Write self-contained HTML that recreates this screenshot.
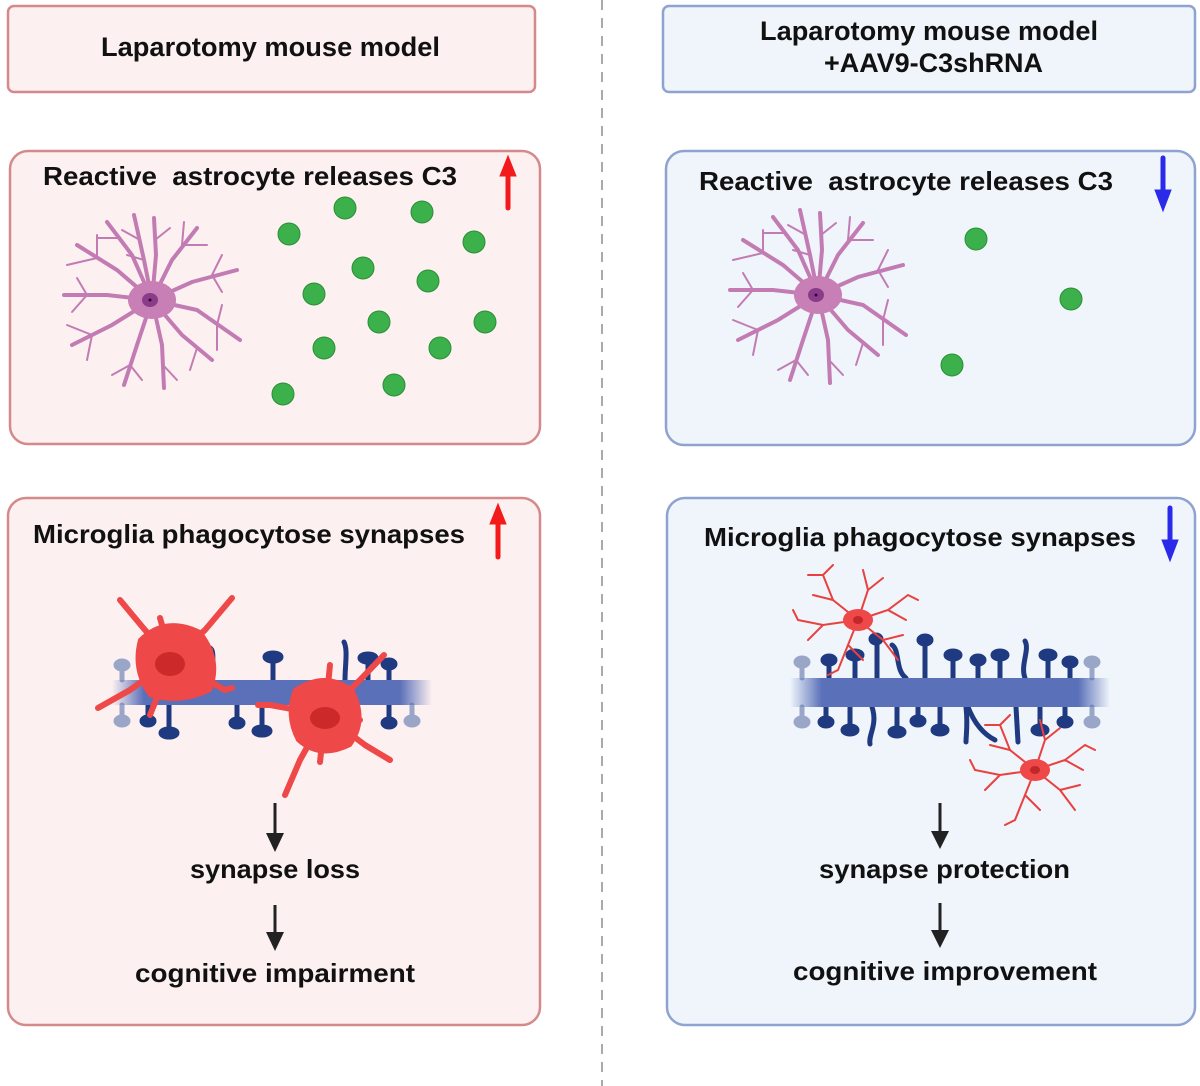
<!DOCTYPE html>
<html><head><meta charset="utf-8"><style>
html,body{margin:0;padding:0;background:#fff;}
svg{display:block;}
text{font-family:"Liberation Sans",sans-serif;font-weight:bold;fill:#111;}
</style></head><body>
<svg width="1200" height="1086" viewBox="0 0 1200 1086" xmlns="http://www.w3.org/2000/svg">
<defs>
<linearGradient id="barL" x1="0" x2="1" y1="0" y2="0">
<stop offset="0" stop-color="#5a70b8" stop-opacity="0"/><stop offset="0.1" stop-color="#5a70b8"/><stop offset="0.9" stop-color="#5a70b8"/><stop offset="1" stop-color="#5a70b8" stop-opacity="0"/></linearGradient>
<g id="astro" stroke="#c27cb3" fill="none" stroke-linecap="round">
<g stroke-width="4">
<path d="M0 0 L-8 -40 L-18 -85"/><path d="M0 0 L4 -45 L2 -82"/><path d="M0 0 L20 -40 L45 -72"/>
<path d="M0 0 L40 -18 L85 -30"/><path d="M0 0 L45 10 L88 40"/><path d="M0 0 L30 35 L60 60"/>
<path d="M0 0 L10 45 L12 88"/><path d="M0 0 L-15 45 L-28 85"/><path d="M0 0 L-40 25 L-80 45"/>
<path d="M0 0 L-45 -5 L-88 -5"/><path d="M0 0 L-35 -30 L-75 -55"/><path d="M0 0 L-20 -45 L-45 -78"/>
</g>
<g stroke-width="2">
<path d="M-12 -60 L-30 -70"/><path d="M3 -60 L18 -72"/><path d="M30 -55 L32 -78"/><path d="M30 -55 L55 -55"/>
<path d="M60 -25 L70 -8"/><path d="M60 -25 L70 -45"/><path d="M65 25 L70 5"/><path d="M65 25 L65 50"/>
<path d="M45 48 L38 70"/><path d="M11 65 L25 80"/><path d="M-22 65 L-40 75"/><path d="M-22 65 L-10 80"/>
<path d="M-60 35 L-65 60"/><path d="M-60 35 L-85 25"/><path d="M-65 -5 L-75 -22"/><path d="M-65 -5 L-80 12"/>
<path d="M-55 -42 L-55 -65"/><path d="M-55 -42 L-85 -35"/><path d="M-32 -62 L-55 -62"/><path d="M-8 -40 L-25 -45"/>
</g>
<ellipse cx="0" cy="0" rx="24" ry="19" fill="#c77fb5" stroke="none"/>
<ellipse cx="-2" cy="0" rx="8" ry="7" fill="#8a3c8a" stroke="none"/>
<circle cx="-2" cy="0" r="1.5" fill="#2a0a2a" stroke="none"/>
</g>
<g id="mg" stroke="#e8413f" fill="none" stroke-linecap="round" stroke-width="2">
<path d="M0 0 L-25 -20 L-35 -45 M-25 -20 L-45 -25 M-35 -45 L-25 -55 M-35 -45 L-50 -45 M0 0 L10 -30 L5 -50 M10 -30 L25 -42 M0 0 L30 -10 L50 -25 M30 -10 L48 0 M50 -25 L60 -20 M0 0 L25 20 L40 40 M25 20 L45 15 M0 0 L-10 25 L-20 50 M-10 25 L5 40 M0 0 L-35 5 L-60 0 M-35 5 L-50 20 M-60 0 L-65 -10 M-20 50 L-30 55"/>
<ellipse cx="0" cy="0" rx="15" ry="11" fill="#ef4848" stroke="none"/>
<ellipse cx="0" cy="0" rx="5" ry="4" fill="#c0282a" stroke="none"/>
</g>
</defs>
<rect width="1200" height="1086" fill="#fff"/>
<line x1="602" y1="0" x2="602" y2="1086" stroke="#aaa" stroke-width="2" stroke-dasharray="10,8"/>

<!-- left boxes -->
<rect x="8" y="6" width="527" height="86" rx="6" fill="#fcf0f0" stroke="#d48a8a" stroke-width="2.5"/>
<text x="101" y="56" font-size="27" textLength="339" lengthAdjust="spacingAndGlyphs">Laparotomy mouse model</text>
<rect x="10" y="151" width="530" height="293" rx="18" fill="#fcf0f0" stroke="#d48a8a" stroke-width="2.5"/>
<text x="43" y="185" font-size="26" textLength="414" lengthAdjust="spacingAndGlyphs" xml:space="preserve">Reactive  astrocyte releases C3</text>
<rect x="8" y="498" width="532" height="527" rx="18" fill="#fcf0f0" stroke="#d48a8a" stroke-width="2.5"/>
<text x="33" y="543" font-size="26" textLength="432" lengthAdjust="spacingAndGlyphs">Microglia phagocytose synapses</text>

<!-- right boxes -->
<rect x="663" y="6" width="532" height="86" rx="6" fill="#eff5fb" stroke="#8fa3d0" stroke-width="2.5"/>
<text x="760" y="40" font-size="27" textLength="338" lengthAdjust="spacingAndGlyphs">Laparotomy mouse model</text>
<text x="824" y="72" font-size="27" textLength="219" lengthAdjust="spacingAndGlyphs">+AAV9-C3shRNA</text>
<rect x="666" y="151" width="529" height="294" rx="18" fill="#eff5fb" stroke="#8fa3d0" stroke-width="2.5"/>
<text x="699" y="190" font-size="26" textLength="414" lengthAdjust="spacingAndGlyphs" xml:space="preserve">Reactive  astrocyte releases C3</text>
<rect x="667" y="498" width="528" height="527" rx="18" fill="#eff5fb" stroke="#8fa3d0" stroke-width="2.5"/>
<text x="704" y="546" font-size="26" textLength="432" lengthAdjust="spacingAndGlyphs">Microglia phagocytose synapses</text>

<!-- up/down arrows -->
<g fill="#f21a1a" stroke="#f21a1a" stroke-width="5" stroke-linecap="round">
<line x1="508" y1="172" x2="508" y2="208"/><polygon points="500,176 516,176 508,156" stroke-width="1"/>
<line x1="498" y1="520" x2="498" y2="557"/><polygon points="490,524 506,524 498,504" stroke-width="1"/>
</g>
<g fill="#2a2ae8" stroke="#2a2ae8" stroke-width="5" stroke-linecap="round">
<line x1="1163" y1="158" x2="1163" y2="194"/><polygon points="1155,190 1171,190 1163,211" stroke-width="1"/>
<line x1="1170" y1="508" x2="1170" y2="544"/><polygon points="1162,540 1178,540 1170,561" stroke-width="1"/>
</g>

<!-- astrocytes -->
<use href="#astro" x="152" y="300"/>
<use href="#astro" x="818" y="295"/>

<!-- C3 dots -->
<g fill="#3cb04a" stroke="#2a8e36" stroke-width="1">
<circle cx="289" cy="234" r="11"/><circle cx="345" cy="208" r="11"/><circle cx="422" cy="212" r="11"/><circle cx="474" cy="242" r="11"/>
<circle cx="363" cy="268" r="11"/><circle cx="428" cy="281" r="11"/><circle cx="314" cy="294" r="11"/><circle cx="379" cy="322" r="11"/>
<circle cx="485" cy="322" r="11"/><circle cx="324" cy="348" r="11"/><circle cx="440" cy="348" r="11"/><circle cx="283" cy="394" r="11"/>
<circle cx="394" cy="385" r="11"/>
<circle cx="976" cy="239" r="11"/><circle cx="1071" cy="299" r="11"/><circle cx="952" cy="365" r="11"/>
</g>

<!-- left dendrite -->
<g stroke="#1f3a80" stroke-width="5" stroke-linecap="round" fill="#1f3a80">
<path d="M212 680 C212 665 215 650 210 648" fill="none"/>
<line x1="273" y1="680" x2="273" y2="660"/><ellipse cx="273" cy="657" rx="8" ry="4"/>
<path d="M345 680 C345 665 348 650 344 642" fill="none"/>
<line x1="368" y1="680" x2="368" y2="662"/><ellipse cx="368" cy="658" rx="8" ry="4"/>
<line x1="389" y1="680" x2="389" y2="667"/><ellipse cx="389" cy="664" rx="6" ry="4"/>
<line x1="148" y1="705" x2="148" y2="718"/><ellipse cx="148" cy="721" rx="6" ry="4"/>
<line x1="169" y1="705" x2="169" y2="730"/><ellipse cx="169" cy="733" rx="8" ry="4"/>
<line x1="237" y1="705" x2="237" y2="720"/><ellipse cx="237" cy="723" rx="6" ry="4"/>
<line x1="262" y1="705" x2="262" y2="728"/><ellipse cx="262" cy="731" rx="8" ry="4"/>
<line x1="389" y1="705" x2="389" y2="720"/><ellipse cx="389" cy="723" rx="6" ry="4"/>
</g>
<g stroke="#9aa6c8" stroke-width="5" fill="#9aa6c8" stroke-linecap="round">
<line x1="122" y1="680" x2="122" y2="668"/><ellipse cx="122" cy="665" rx="6" ry="4"/>
<line x1="122" y1="705" x2="122" y2="718"/><ellipse cx="122" cy="721" rx="6" ry="4"/>
<line x1="412" y1="705" x2="412" y2="718"/><ellipse cx="412" cy="721" rx="6" ry="4"/>
</g>
<rect x="112" y="680" width="320" height="25" fill="url(#barL)"/>

<!-- left microglia -->
<g fill="#ef4848" stroke="#ef4848" stroke-linecap="round" stroke-linejoin="round">
<g stroke-width="6" fill="none">
<path d="M172 660 L145 630 L120 600"/><path d="M172 660 L205 630 L232 598"/><path d="M172 660 L130 690 L98 708"/>
<path d="M172 660 L150 715"/><path d="M172 660 L225 690 L232 688"/><path d="M172 660 L160 618"/><path d="M172 660 L210 650"/>
<path d="M325 715 L360 680 L384 655"/><path d="M325 715 L330 665"/><path d="M325 715 L270 705 L258 705"/>
<path d="M325 715 L300 760 L285 795"/><path d="M325 715 L365 745 L390 760"/><path d="M325 715 L360 720"/><path d="M325 715 L320 762"/>
</g>
<path d="M140 640 Q165 615 200 632 Q222 660 210 690 Q180 705 150 695 Q132 670 140 640Z" stroke-width="4"/>
<path d="M295 690 Q325 670 352 690 Q368 720 350 745 Q320 760 298 740 Q285 715 295 690Z" stroke-width="4"/>
</g>
<ellipse cx="170" cy="664" rx="15" ry="12" fill="#cc2a2a"/>
<ellipse cx="325" cy="718" rx="15" ry="11" fill="#cc2a2a"/>

<!-- right dendrite spines -->
<g stroke="#1f3a80" stroke-width="5" stroke-linecap="round" fill="#1f3a80">
<line x1="829" y1="678" x2="829" y2="662"/><ellipse cx="829" cy="660" rx="6" ry="4"/>
<line x1="855" y1="678" x2="855" y2="657"/><ellipse cx="855" cy="655" rx="7" ry="4"/>
<path d="M877 678 L877 640" fill="none"/><ellipse cx="876" cy="639" rx="5" ry="4"/>
<path d="M906 678 C895 670 900 650 892 645" fill="none"/>
<line x1="925" y1="678" x2="925" y2="642"/><ellipse cx="925" cy="640" rx="6" ry="4"/>
<line x1="953" y1="678" x2="953" y2="657"/><ellipse cx="953" cy="655" rx="7" ry="4"/>
<line x1="978" y1="678" x2="978" y2="662"/><ellipse cx="978" cy="660" rx="6" ry="4"/>
<line x1="1000" y1="678" x2="1000" y2="656"/><ellipse cx="1000" cy="655" rx="7" ry="4"/>
<path d="M1025 678 C1020 665 1030 650 1025 641" fill="none"/>
<line x1="1048" y1="678" x2="1048" y2="656"/><ellipse cx="1048" cy="655" rx="7" ry="4"/>
<line x1="1070" y1="678" x2="1070" y2="664"/><ellipse cx="1070" cy="662" rx="6" ry="4"/>
<line x1="826" y1="707" x2="826" y2="720"/><ellipse cx="826" cy="722" rx="6" ry="4"/>
<line x1="850" y1="707" x2="850" y2="728"/><ellipse cx="850" cy="730" rx="7" ry="4"/>
<path d="M872 707 C878 725 868 735 870 744" fill="none"/>
<line x1="897" y1="707" x2="897" y2="730"/><ellipse cx="897" cy="732" rx="7" ry="4"/>
<line x1="918" y1="707" x2="918" y2="719"/><ellipse cx="918" cy="721" rx="6" ry="4"/>
<line x1="940" y1="707" x2="940" y2="728"/><ellipse cx="940" cy="730" rx="7" ry="4"/>
<path d="M966 707 C968 725 966 735 966 742" fill="none"/>
<path d="M968 707 C975 725 985 735 995 740" fill="none"/>
<path d="M1016 707 L1018 742" fill="none"/>
<line x1="1040" y1="707" x2="1040" y2="728"/><ellipse cx="1040" cy="730" rx="7" ry="4"/>
<line x1="1065" y1="707" x2="1065" y2="720"/><ellipse cx="1065" cy="722" rx="6" ry="4"/>
</g>
<g stroke="#9aa6c8" stroke-width="5" fill="#9aa6c8" stroke-linecap="round">
<line x1="802" y1="678" x2="802" y2="664"/><ellipse cx="802" cy="662" rx="6" ry="4"/>
<line x1="802" y1="707" x2="802" y2="720"/><ellipse cx="802" cy="722" rx="6" ry="4"/>
<line x1="1092" y1="678" x2="1092" y2="664"/><ellipse cx="1092" cy="662" rx="6" ry="4"/>
<line x1="1092" y1="707" x2="1092" y2="720"/><ellipse cx="1092" cy="722" rx="6" ry="4"/>
</g>
<rect x="790" y="678" width="320" height="29" fill="url(#barL)"/>
<use href="#mg" x="858" y="620"/>
<use href="#mg" x="1035" y="770"/>

<!-- flow arrows -->
<g stroke="#222" stroke-width="3" fill="#222">
<line x1="275" y1="803" x2="275" y2="836"/><polygon points="266,833 284,833 275,852" stroke="none"/>
<line x1="275" y1="905" x2="275" y2="935"/><polygon points="266,932 284,932 275,951" stroke="none"/>
<line x1="940" y1="803" x2="940" y2="834"/><polygon points="931,831 949,831 940,849" stroke="none"/>
<line x1="940" y1="903" x2="940" y2="933"/><polygon points="931,930 949,930 940,948" stroke="none"/>
</g>
<text x="190" y="878" font-size="26" textLength="170" lengthAdjust="spacingAndGlyphs">synapse loss</text>
<text x="135" y="982" font-size="26" textLength="280" lengthAdjust="spacingAndGlyphs">cognitive impairment</text>
<text x="819" y="878" font-size="26" textLength="251" lengthAdjust="spacingAndGlyphs">synapse protection</text>
<text x="793" y="980" font-size="26" textLength="304" lengthAdjust="spacingAndGlyphs">cognitive improvement</text>
</svg>
</body></html>
